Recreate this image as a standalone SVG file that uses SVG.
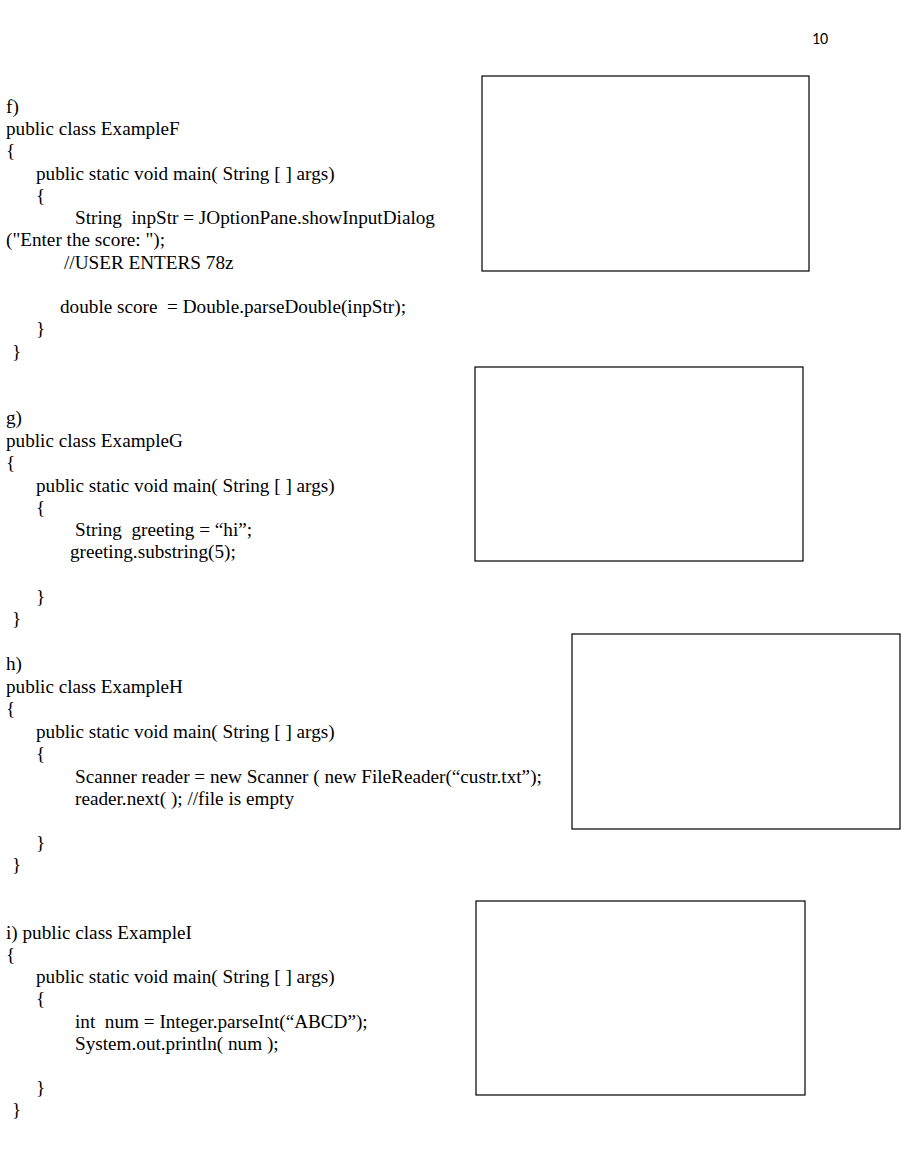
<svg xmlns="http://www.w3.org/2000/svg" width="922" height="1165" viewBox="0 0 922 1165">
<style>
text{font-family:"Liberation Serif",serif;font-size:19.2px;fill:#000;white-space:pre}
.pn{font-family:"Carlito","Liberation Sans",sans-serif;font-size:16px}
rect{fill:none;stroke:#000;stroke-width:1.2}
</style>
<rect x="0" y="0" width="922" height="1165" style="fill:#fff;stroke:none"/>
<text class="pn" x="812" y="44">10</text>
<g id="f">
<text x="6" y="113">f)</text>
<text x="6" y="135">public class ExampleF</text>
<text x="6" y="157">{</text>
<text x="36" y="180">public static void main( String [ ] args)</text>
<text x="36" y="202">{</text>
<text x="75" y="224">String  inpStr = JOptionPane.showInputDialog</text>
<text x="6" y="246">("Enter the score: ");</text>
<text x="64" y="269">//USER ENTERS 78z</text>
<text x="60" y="313">double score  = Double.parseDouble(inpStr);</text>
<text x="36" y="335">}</text>
<text x="12" y="358">}</text>
<rect x="482" y="76" width="327" height="195"/>
</g>
<g id="g">
<text x="6" y="424">g)</text>
<text x="6" y="447">public class ExampleG</text>
<text x="6" y="469">{</text>
<text x="36" y="492">public static void main( String [ ] args)</text>
<text x="36" y="514">{</text>
<text x="75" y="536">String  greeting = “hi”;</text>
<text x="70" y="558">greeting.substring(5);</text>
<text x="36" y="603">}</text>
<text x="12" y="625">}</text>
<rect x="475" y="367" width="328" height="194"/>
</g>
<g id="h">
<text x="6" y="670">h)</text>
<text x="6" y="693">public class ExampleH</text>
<text x="6" y="715">{</text>
<text x="36" y="738">public static void main( String [ ] args)</text>
<text x="36" y="760">{</text>
<text x="75" y="783">Scanner reader = new Scanner ( new FileReader(“custr.txt”);</text>
<text x="75" y="805">reader.next( ); //file is empty</text>
<text x="36" y="849">}</text>
<text x="12" y="871">}</text>
<rect x="572" y="634" width="328" height="195"/>
</g>
<g id="i">
<text x="6" y="939">i) public class ExampleI</text>
<text x="6" y="961">{</text>
<text x="36" y="983">public static void main( String [ ] args)</text>
<text x="36" y="1005">{</text>
<text x="75" y="1028">int  num = Integer.parseInt(“ABCD”);</text>
<text x="75" y="1050">System.out.println( num );</text>
<text x="36" y="1094">}</text>
<text x="12" y="1116">}</text>
<rect x="476" y="901" width="329" height="194"/>
</g>
<g id="connectors"/>
</svg>
